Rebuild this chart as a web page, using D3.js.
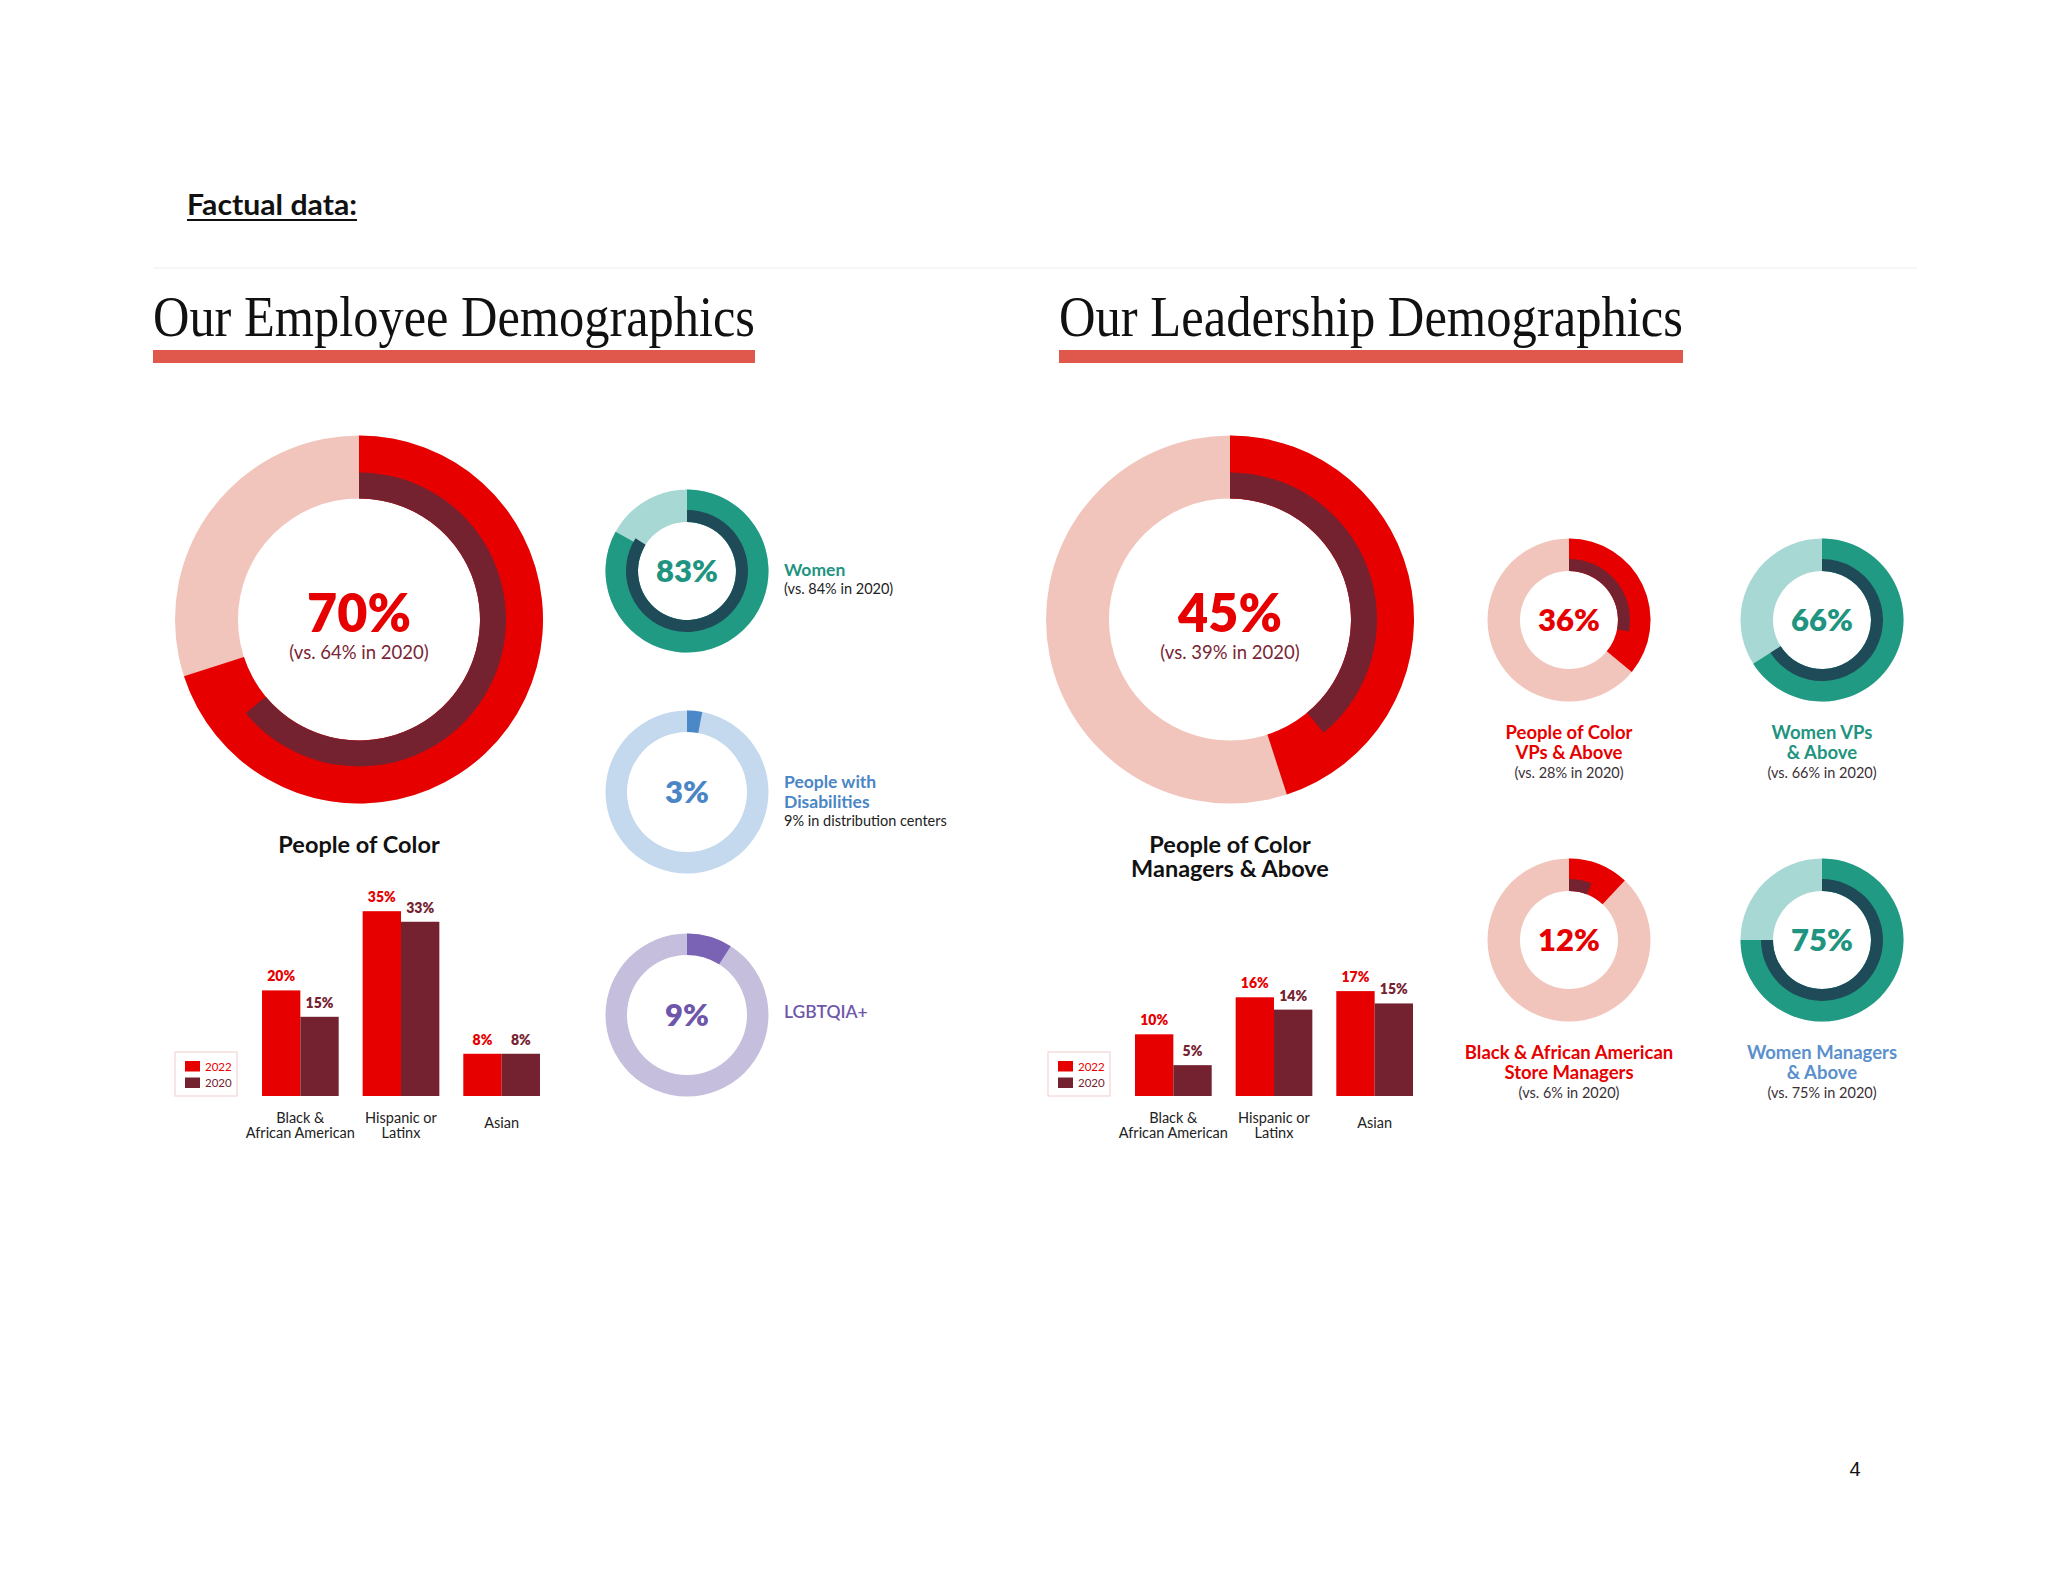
<!DOCTYPE html>
<html>
<head>
<meta charset="utf-8">
<script src="https://cdn.jsdelivr.net/npm/d3@7"></script>
<style>
  body { margin: 0; background: #fff; }
  svg { display: block; }
  text { font-family: Lato, "Noto Sans", sans-serif; }
</style>
</head>
<body>
<svg id="canvas" width="2048" height="1582"></svg>
<script>

// Chart data
const sectionTitles = ["Our Employee Demographics", "Our Leadership Demographics"];

const barYears = ["2022", "2020"];
const barCategories = [["Black &", "African American"], ["Hispanic or", "Latinx"], ["Asian"]];
const employeeBars2022 = [20, 35, 8];
const employeeBars2020 = [15, 33, 8];
const leadershipBars2022 = [10, 16, 17];
const leadershipBars2020 = [5, 14, 15];

const bigDonutTitles = [["People of Color"], ["People of Color", "Managers & Above"]];
const bigDonut2022 = [70, 45];
const bigDonut2020 = [64, 39];

const sideDonutLabels = [["Women"], ["People with", "Disabilities"], ["LGBTQIA+"]];
const sideDonutNotes = ["(vs. 84% in 2020)", "9% in distribution centers", ""];
const sideDonut2022 = [83, 3, 9];
const sideDonut2020 = [84, null, null];

const leaderDonutLabels = [["People of Color", "VPs & Above"], ["Women VPs", "& Above"],
                           ["Black & African American", "Store Managers"], ["Women Managers", "& Above"]];
const leaderDonut2022 = [36, 66, 12, 75];
const leaderDonut2020 = [28, 66, 6, 75];

// Palettes
const RED = { light: "#f2c5bc", main: "#e60000", dark: "#752230", text: "#e60000", note: "#7a2535" };
const TEAL = { light: "#a7d8d3", main: "#219a83", dark: "#1f4a58", text: "#1f9480", note: "#333" };
const BLUE = { light: "#c4d8ee", main: "#4b88c8", text: "#4a86c5" };
const PURPLE = { light: "#c5bedc", main: "#7a62b4", text: "#6e57aa" };

const svg = d3.select("#canvas");
svg.append("rect").attr("width", 2048).attr("height", 1582).attr("fill", "#fff");

const angle = d3.scaleLinear().domain([0, 100]).range([0, 2 * Math.PI]);

/** Draw a ring chart: light background, current value full width, optional previous value on inner band */
function drawDonut(cx, cy, r, current, previous, pal) {
    const g = svg.append("g").attr("transform", `translate(${cx},${cy})`);
    const full = d3.arc().innerRadius(r.inner).outerRadius(r.outer).startAngle(0);
    g.append("path").attr("d", full.endAngle(2 * Math.PI)()).attr("fill", pal.light);
    g.append("path").attr("d", full.endAngle(angle(current))()).attr("fill", pal.main);
    if (previous !== null) {
        const band = d3.arc().innerRadius(r.inner).outerRadius(r.mid).startAngle(0).endAngle(angle(previous));
        g.append("path").attr("d", band()).attr("fill", pal.dark);
    }
    return g;
}

// Header
svg.append("text").attr("x", 187).attr("y", 215)
    .attr("font-size", 28).attr("font-weight", 700).attr("fill", "#111")
    .attr("textLength", 170).attr("lengthAdjust", "spacingAndGlyphs")
    .text("Factual data:");
svg.append("line").attr("x1", 187).attr("x2", 357).attr("y1", 220).attr("y2", 220)
    .attr("stroke", "#111").attr("stroke-width", 2);
svg.append("line").attr("x1", 153).attr("x2", 1917).attr("y1", 268).attr("y2", 268)
    .attr("stroke", "#f3f3f3").attr("stroke-width", 1.5);

const titleX = [153, 1059], titleW = [602, 624];
sectionTitles.forEach((t, i) => {
    svg.append("text").attr("x", titleX[i]).attr("y", 336)
        .style("font-family", "'Liberation Serif', serif").attr("font-size", 56).attr("fill", "#111")
        .attr("textLength", titleW[i]).attr("lengthAdjust", "spacingAndGlyphs")
        .text(t);
    svg.append("rect").attr("x", titleX[i]).attr("y", 350).attr("width", titleW[i]).attr("height", 13)
        .attr("fill", "#e0574c");
});

// Big donuts
const bigCenters = [[359, 619.5], [1230, 619.5]];
bigDonut2022.forEach((v, i) => {
    const [cx, cy] = bigCenters[i];
    const g = drawDonut(cx, cy, { inner: 121, mid: 147, outer: 184 }, v, bigDonut2020[i], RED);
    g.append("text").attr("text-anchor", "middle").attr("y", 12)
        .attr("font-size", 52).attr("font-weight", 800).attr("fill", RED.text).text(`${v}%`);
    g.append("text").attr("text-anchor", "middle").attr("y", 39)
        .attr("font-size", 18.5).attr("fill", RED.note).text(`(vs. ${bigDonut2020[i]}% in 2020)`);
    bigDonutTitles[i].forEach((line, k) => {
        g.append("text").attr("text-anchor", "middle").attr("y", 233 + k * 24)
            .attr("font-size", 23.5).attr("font-weight", 700).attr("fill", "#111").text(line);
    });
});

// Side donuts (employees)
const sideCenters = [571, 792, 1015];
const sidePalettes = [TEAL, BLUE, PURPLE];
const sideLabelDy = [5, -4, 3];
sideDonut2022.forEach((v, i) => {
    const pal = sidePalettes[i];
    const r = sideDonut2020[i] !== null ? { inner: 49, mid: 61, outer: 81.5 } : { inner: 60, outer: 81.5 };
    const g = drawDonut(687, sideCenters[i], r, v, sideDonut2020[i], pal);
    g.append("text").attr("text-anchor", "middle").attr("y", 11)
        .attr("font-size", 31).attr("font-weight", 800).attr("fill", pal.text).text(`${v}%`);
    const lines = sideDonutLabels[i];
    lines.forEach((line, k) => {
        g.append("text").attr("x", 97).attr("y", sideLabelDy[i] + k * 20)
            .attr("font-size", 17.5).attr("font-weight", i === 2 ? 600 : 700).attr("fill", pal.text).text(line);
    });
    if (sideDonutNotes[i]) {
        g.append("text").attr("x", 97).attr("y", sideLabelDy[i] + (lines.length - 1) * 20 + 18)
            .attr("font-size", 14.5).attr("fill", "#222").text(sideDonutNotes[i]);
    }
});

// Leadership small donuts
const leaderCenters = [[1569, 620], [1822, 620], [1569, 940], [1822, 940]];
const leaderPalettes = [RED, TEAL, RED, TEAL];
const leaderLabelColors = [RED.text, TEAL.text, RED.text, "#5b90cc"];
leaderDonut2022.forEach((v, i) => {
    const [cx, cy] = leaderCenters[i];
    const pal = leaderPalettes[i];
    const g = drawDonut(cx, cy, { inner: 49, mid: 61, outer: 81.5 }, v, leaderDonut2020[i], pal);
    g.append("text").attr("text-anchor", "middle").attr("y", 11)
        .attr("font-size", 31).attr("font-weight", 800).attr("fill", pal.text).text(`${v}%`);
    leaderDonutLabels[i].forEach((line, k) => {
        g.append("text").attr("text-anchor", "middle").attr("y", 119 + k * 20)
            .attr("font-size", 18.5).attr("font-weight", 700).attr("fill", leaderLabelColors[i]).text(line);
    });
    g.append("text").attr("text-anchor", "middle").attr("y", 158)
        .attr("font-size", 14.5).attr("fill", "#3a3036").text(`(vs. ${leaderDonut2020[i]}% in 2020)`);
});

// Grouped bars
const barColors = { "2022": RED.main, "2020": RED.dark };

function drawBars(x0, x1, pxPerPct, v2022, v2020, legendX) {
    const base = 1096;
    const x = d3.scaleBand().domain(d3.range(barCategories.length)).range([x0, x1]).paddingInner(0.238);
    const xYear = d3.scaleBand().domain(barYears).range([0, x.bandwidth()]);
    const y = d3.scaleLinear().domain([0, 100]).range([base, base - 100 * pxPerPct]);
    const rows = barCategories.map((c, i) => ({ i, values: { "2022": v2022[i], "2020": v2020[i] } }));

    const groups = svg.append("g").selectAll("g").data(rows).enter().append("g")
        .attr("transform", d => `translate(${x(d.i)},0)`);

    groups.selectAll("rect").data(d => barYears.map(yr => ({ yr, v: d.values[yr] }))).enter()
        .append("rect")
        .attr("x", d => xYear(d.yr)).attr("width", xYear.bandwidth())
        .attr("y", d => y(d.v)).attr("height", d => base - y(d.v))
        .attr("fill", d => barColors[d.yr]);

    groups.selectAll("text.val").data(d => barYears.map(yr => ({ yr, v: d.values[yr] }))).enter()
        .append("text").attr("class", "val")
        .attr("x", d => xYear(d.yr) + xYear.bandwidth() / 2).attr("y", d => y(d.v) - 9)
        .attr("text-anchor", "middle").attr("font-size", 14).attr("font-weight", 800)
        .attr("fill", d => barColors[d.yr]).text(d => `${d.v}%`);

    groups.each(function (d) {
        const lines = barCategories[d.i];
        const startY = lines.length === 1 ? 1127.5 : 1123;
        lines.forEach((line, k) => {
            d3.select(this).append("text").attr("x", x.bandwidth() / 2).attr("y", startY + k * 14.5)
                .attr("text-anchor", "middle").attr("font-size", 14.5).attr("fill", "#222").text(line);
        });
    });

    // Legend
    const lg = svg.append("g").attr("transform", `translate(${legendX},1052)`);
    lg.append("rect").attr("width", 62).attr("height", 44).attr("fill", "#fff")
        .attr("stroke", "#f2d6d4").attr("stroke-width", 1.2);
    barYears.forEach((yr, k) => {
        lg.append("rect").attr("x", 10).attr("y", 9 + k * 16.5).attr("width", 15).attr("height", 10.5)
            .attr("fill", barColors[yr]);
        lg.append("text").attr("x", 30).attr("y", 18.5 + k * 16.5).attr("font-size", 11.5)
            .attr("fill", barColors[yr]).text(yr);
    });
}

drawBars(262, 540, 5.28, employeeBars2022, employeeBars2020, 175);
drawBars(1135, 1413, 6.17, leadershipBars2022, leadershipBars2020, 1048);

// Page number
svg.append("text").attr("x", 1855).attr("y", 1476).attr("text-anchor", "middle")
    .style("font-family", "'Liberation Sans', sans-serif").attr("font-size", 20).attr("fill", "#111").text("4");

</script>
</body>
</html>
